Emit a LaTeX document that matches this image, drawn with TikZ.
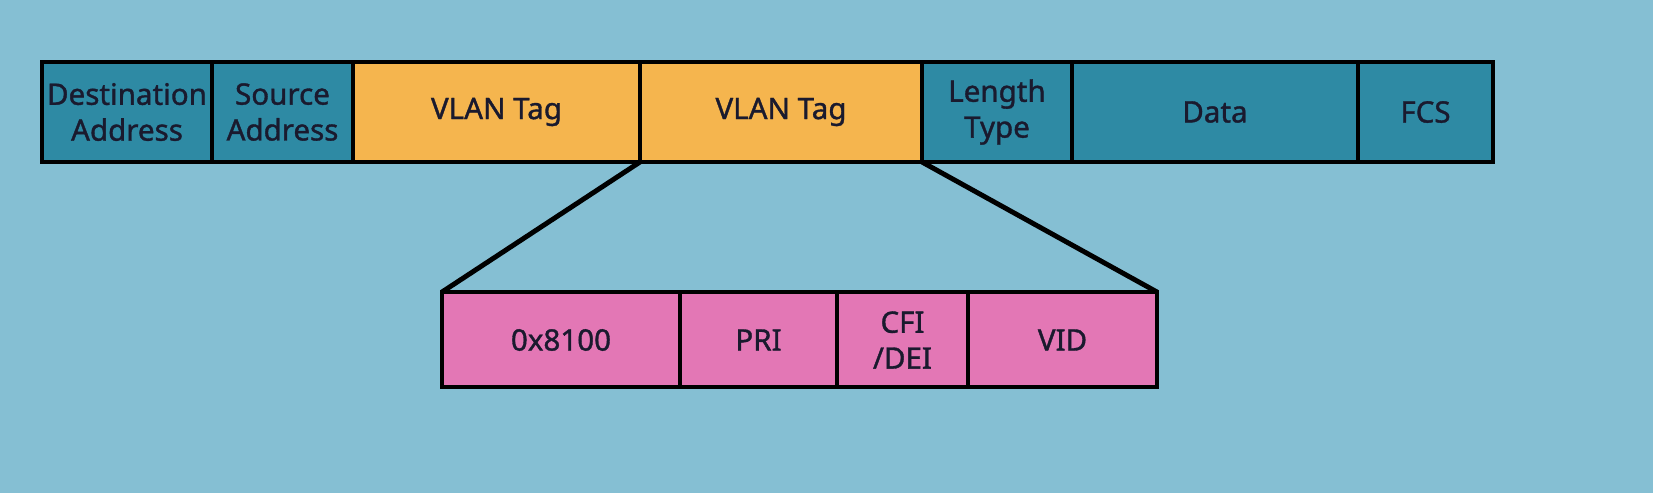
\documentclass[tikz,border=0pt]{standalone}
\usepackage{fontspec}
\setmainfont{Noto Sans}[FakeBold=1.2]
\definecolor{bg}{HTML}{85BFD3}
\definecolor{teal}{HTML}{2E8AA4}
\definecolor{orng}{HTML}{F5B54E}
\definecolor{pink}{HTML}{E377B5}
\definecolor{txt}{HTML}{1A1A2E}
\begin{document}
\begin{tikzpicture}[x=0.01cm,y=-0.01cm,
  fld/.style={draw=black,line width=1.4pt},
  lbl/.style={text=txt,font=\fontsize{8.4}{10.2}\selectfont\bfseries,align=center}]
\fill[bg] (0,0) rectangle (1653,493);
\useasboundingbox (0,0) rectangle (1653,493);
\foreach \a/\b/\c/\t/\n in {42/212/teal/{Destination\\Address}/da,212/353/teal/{Source\\Address}/sa,353/640/orng/{VLAN Tag}/v1,640/922/orng/{VLAN Tag}/v2,922/1072/teal/{Length\\Type}/lt,1072/1358/teal/Data/dt,1358/1493/teal/FCS/fcs}{
  \draw[fld,fill=\c] (\a,62) rectangle (\b,162);
  \node[lbl] (\n) at ({(\a+\b)/2},112) {\t};
}
\foreach \a/\b/\t/\n in {442/680/0x8100/p1,680/837/PRI/p2,837/968/{CFI\\/DEI}/p3,968/1157/VID/p4}{
  \draw[fld,fill=pink] (\a,292) rectangle (\b,387);
  \node[lbl] (\n) at ({(\a+\b)/2},340) {\t};
}
\coordinate (t1) at (640,162); \coordinate (t2) at (922,162);
\coordinate (b1) at (442,292); \coordinate (b2) at (1157,292);
\draw[line width=1.4pt] (t1) -- (b1);
\draw[line width=1.4pt] (t2) -- (b2);
\end{tikzpicture}
\end{document}
